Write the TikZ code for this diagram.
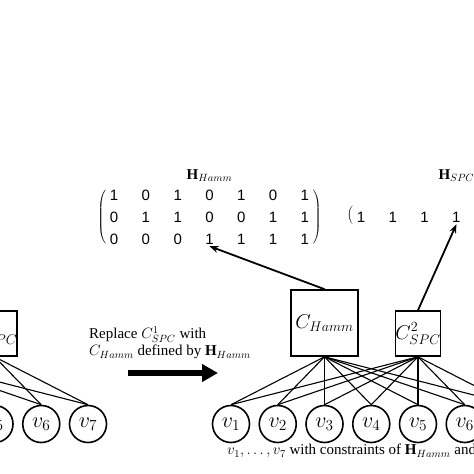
\RequirePackage{fix-cm}
\documentclass[tikz,border=0pt]{standalone}
\usepackage{fontspec}
\setmainfont{Liberation Serif}
\newfontfamily\digitfont{Liberation Sans}
\usetikzlibrary{arrows.meta}
\usetikzlibrary{positioning}
\usetikzlibrary{matrix}
\tikzset{
    varnode/.style = {circle, draw, line width=1.6pt, minimum size=37pt, inner sep=0pt,
        font=\fontsize{22}{26}\selectfont},% noeud variable
    chkbig/.style = {rectangle, draw, line width=1.6pt, minimum width=67pt, minimum height=66pt,
        inner sep=0pt, font=\fontsize{20}{24}\selectfont},% noeud de parite, Hamming
    chk/.style = {chkbig, minimum width=44pt, minimum height=45pt},% noeud de parite, SPC
    tanner/.style = {line width=1.1pt},
    ptr/.style = {line width=1.8pt, -{Stealth[length=9pt,width=7pt]}},
    pcm/.style = {matrix of nodes, inner sep=0pt, column sep=21.8pt, row sep=8pt,
        nodes={font=\digitfont\fontsize{15}{18}\selectfont, minimum width=10pt,
        minimum height=14pt, inner sep=0pt, anchor=center}},
    every left delimiter/.style = {xshift=-1.5pt},
    every right delimiter/.style = {xshift=1.5pt},
    lbl/.style = {font=\fontsize{15}{17}\selectfont, inner sep=0pt},
}
\begin{document}
\begin{tikzpicture}[x=1pt,y=-1pt]
\useasboundingbox (0,0) rectangle (474,474);
\clip (0,0) rectangle (474,474);
% graphe de gauche
\foreach \i in {1,...,7}
    \node [varnode] (a\i) at ({88-46.75*(7-\i)},424) {$v_{\i}$};
\node [chk] (a-c1) at (-99,333.5) {$C^1_{SPC}$};
\node [chk] (a-c2) at (-5.5,333.5) {$C^2_{SPC}$};
% graphe de droite
\foreach \i in {1,...,7}
    \node [varnode] (b\i) at ({231+46.75*(\i-1)},424) {$v_{\i}$};
\node [chkbig] (hamm) at (324.5,323) {$C_{Hamm}$};
\node [chk] (b-c2) at (418,333.5) {$C^2_{SPC}$};
\foreach \i in {1,...,7} {
    \draw [tanner] (a-c1.south) -- (a\i.north);
    \draw [tanner] (a-c2.south) -- (a\i.north);
    \draw [tanner] (hamm.south) -- (b\i.north);
    \draw [tanner] (b-c2.south) -- (b\i.north);
}
% matrices de parite
\matrix [pcm, left delimiter=(, right delimiter=)] (hmat) at (209.5,217) {
1 & 0 & 1 & 0 & 1 & 0 & 1 \\
0 & 1 & 1 & 0 & 0 & 1 & 1 \\
0 & 0 & 0 & 1 & 1 & 1 & 1 \\
};
\matrix [pcm, left delimiter=(, right delimiter=)] (smat) at (456.4,217) {
1 & 1 & 1 & 1 & 1 & 1 & 1 \\
};
\node [lbl, above=6pt of hmat] (hlab) {$\mathbf{H}_{Hamm}$};
\node [lbl] (slab) at (hlab -| smat) {$\mathbf{H}_{SPC}$};
\draw [ptr] (hamm.north) -- (hmat-3-4.south);
\draw [ptr] (b-c2.north) -- (smat-1-4.south);
% remplacement
\coordinate (rep-s) at (128,373);
\coordinate (rep-e) at (218,373);
\draw [line width=6pt, -{Triangle[length=16pt,width=17pt]}] (rep-s) -- (rep-e);
\node [lbl, align=left, anchor=west] (rep) at (89,343)
    {Replace $C^1_{SPC}$ with\\$C_{Hamm}$ defined by $\mathbf{H}_{Hamm}$};
\node [lbl, anchor=west] (note) at (227,451)
    {$v_1,\dots,v_7$ with constraints of $\mathbf{H}_{Hamm}$ and};
\end{tikzpicture}
\end{document}
